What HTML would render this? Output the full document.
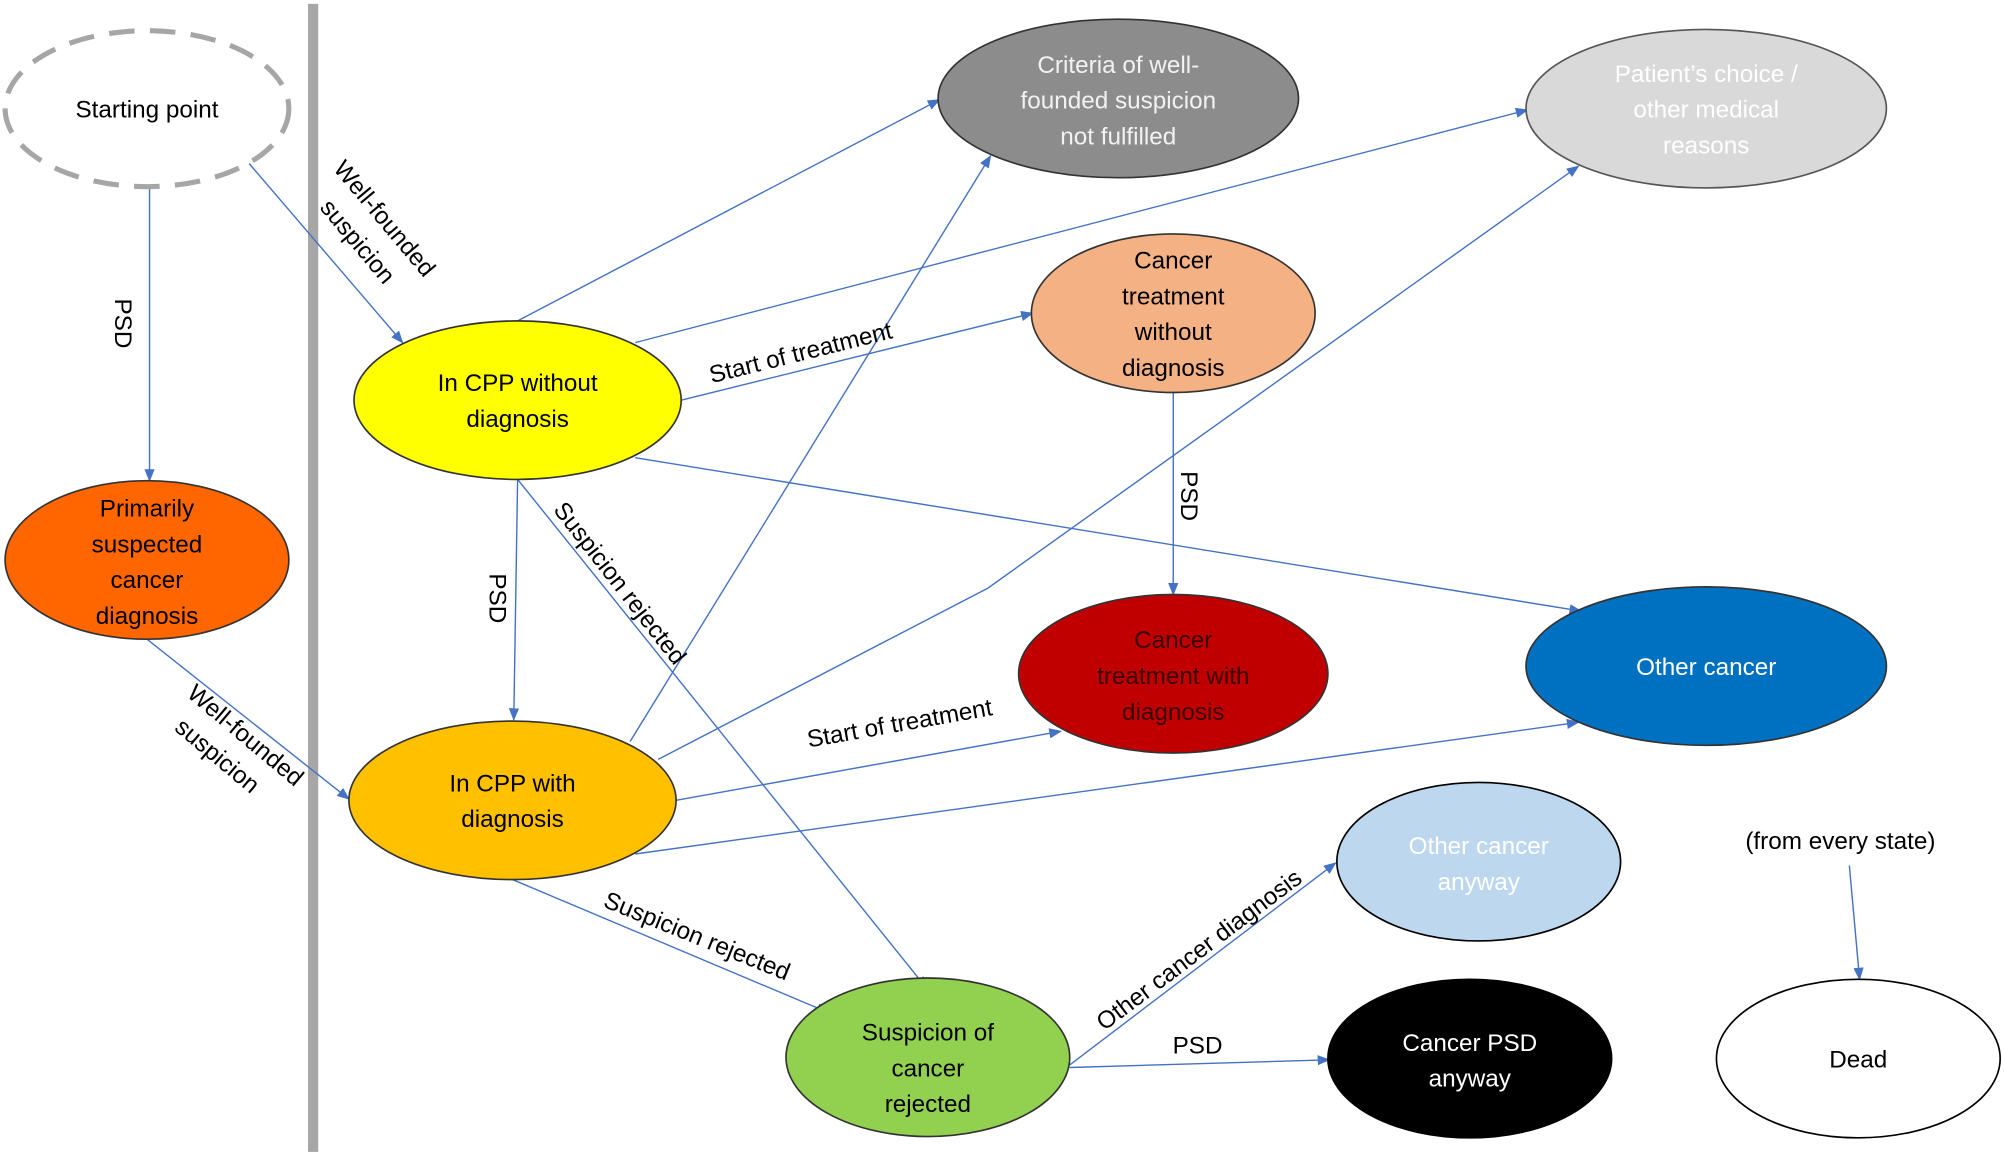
<!DOCTYPE html>
<html><head><meta charset="utf-8"><style>
html,body{margin:0;padding:0;background:#fff;}
svg{display:block;}
text{font-family:"Liberation Sans",sans-serif;font-size:19px;}
</style></head><body>
<svg width="2004" height="1157" viewBox="0 0 1568 905" preserveAspectRatio="none" xmlns="http://www.w3.org/2000/svg">
<defs><marker id="a" markerWidth="10" markerHeight="10" refX="9" refY="4" orient="auto" markerUnits="userSpaceOnUse"><path d="M0,0 L10,4 L0,8 z" fill="#4472c4"/></marker></defs>
<rect x="241" y="3" width="8" height="898" fill="#a6a6a6"/>
<g stroke="#4472c4" stroke-width="1.1" fill="none" marker-end="url(#a)">
<line x1="117" y1="147" x2="117" y2="376"/>
<line x1="195" y1="128" x2="315" y2="268"/>
<line x1="405" y1="251" x2="735" y2="78"/>
<line x1="497" y1="268" x2="1195" y2="86"/>
<line x1="533" y1="313" x2="808" y2="245"/>
<line x1="497" y1="358" x2="1237" y2="478"/>
<line x1="405" y1="375" x2="402" y2="563"/>
<line x1="405" y1="375" x2="725" y2="773"/>
<line x1="493" y1="580" x2="775" y2="122"/>
<polyline points="515,594 773,460 1235,130"/>
<line x1="529" y1="626" x2="830" y2="572"/>
<line x1="497" y1="668" x2="1235" y2="565"/>
<line x1="401" y1="688" x2="648" y2="792"/>
<line x1="115" y1="500" x2="273" y2="625"/>
<line x1="918" y1="307" x2="918" y2="465"/>
<line x1="837" y1="833" x2="1045" y2="675"/>
<line x1="837" y1="835" x2="1040" y2="829"/>
<line x1="1447" y1="677" x2="1455" y2="766"/>
</g>
<g stroke-width="1.3">
<ellipse cx="115" cy="85" rx="111" ry="61" fill="#fff" stroke="#a6a6a6" stroke-width="4" stroke-dasharray="20,12"/>
<ellipse cx="875" cy="77" rx="141" ry="62" fill="#8c8c8c" stroke="#333"/>
<ellipse cx="1335" cy="85" rx="141" ry="62" fill="#d9d9d9" stroke="#555"/>
<ellipse cx="918" cy="245" rx="111" ry="62" fill="#f4b183" stroke="#333"/>
<ellipse cx="405" cy="313" rx="128" ry="62" fill="#ffff00" stroke="#333"/>
<ellipse cx="115" cy="438" rx="111" ry="62" fill="#ff6600" stroke="#333"/>
<ellipse cx="918" cy="527" rx="121" ry="62" fill="#c00000" stroke="#333"/>
<ellipse cx="1335" cy="521" rx="141" ry="62" fill="#0070c0" stroke="#333"/>
<ellipse cx="401" cy="626" rx="128" ry="62" fill="#ffc000" stroke="#333"/>
<ellipse cx="1157" cy="674" rx="111" ry="62" fill="#bdd7ee" stroke="#000"/>
<ellipse cx="726" cy="827" rx="111" ry="62" fill="#92d050" stroke="#333"/>
<ellipse cx="1150" cy="828" rx="111" ry="62" fill="#000" stroke="#000"/>
<ellipse cx="1454" cy="828" rx="111" ry="62" fill="#fff" stroke="#000"/>
</g>
<g text-anchor="middle">
<text x="115" y="92" fill="#000">Starting point</text>
<g fill="#f2f2f2"><text x="875" y="57">Criteria of well-</text><text x="875" y="85">founded suspicion</text><text x="875" y="113">not fulfilled</text></g>
<g fill="#fff"><text x="1335" y="64">Patient’s choice /</text><text x="1335" y="92">other medical</text><text x="1335" y="120">reasons</text></g>
<g fill="#000"><text x="918" y="210">Cancer</text><text x="918" y="238">treatment</text><text x="918" y="266">without</text><text x="918" y="294">diagnosis</text></g>
<g fill="#000"><text x="405" y="306">In CPP without</text><text x="405" y="334">diagnosis</text></g>
<g fill="#000"><text x="115" y="404">Primarily</text><text x="115" y="432">suspected</text><text x="115" y="460">cancer</text><text x="115" y="488">diagnosis</text></g>
<g fill="#3a0000"><text x="918" y="507">Cancer</text><text x="918" y="535">treatment with</text><text x="918" y="563">diagnosis</text></g>
<text x="1335" y="528" fill="#fff">Other cancer</text>
<g fill="#000"><text x="401" y="619">In CPP with</text><text x="401" y="647">diagnosis</text></g>
<g fill="#fff"><text x="1157" y="668">Other cancer</text><text x="1157" y="696">anyway</text></g>
<g fill="#000"><text x="726" y="814">Suspicion of</text><text x="726" y="842">cancer</text><text x="726" y="870">rejected</text></g>
<g fill="#fff"><text x="1150" y="822">Cancer PSD</text><text x="1150" y="850">anyway</text></g>
<text x="1454" y="835" fill="#000">Dead</text>
<text x="1440" y="664" fill="#000">(from every state)</text>
</g>
<g fill="#000" text-anchor="middle">
<text transform="translate(90,253) rotate(90)">PSD</text>
<text transform="translate(296,175) rotate(50)">Well-founded</text>
<text transform="translate(275,193) rotate(50)">suspicion</text>
<text transform="translate(628,282) rotate(-14)">Start of treatment</text>
<text transform="translate(383,468) rotate(90)">PSD</text>
<text transform="translate(480,460) rotate(52)">Suspicion rejected</text>
<text transform="translate(705,572) rotate(-10)">Start of treatment</text>
<text transform="translate(543,738) rotate(22)">Suspicion rejected</text>
<text transform="translate(188,580) rotate(40)">Well-founded</text>
<text transform="translate(166,596) rotate(40)">suspicion</text>
<text transform="translate(924,388) rotate(90)">PSD</text>
<text transform="translate(942,748) rotate(-37)">Other cancer diagnosis</text>
<text x="937" y="824">PSD</text>
</g>
</svg>
</body></html>
